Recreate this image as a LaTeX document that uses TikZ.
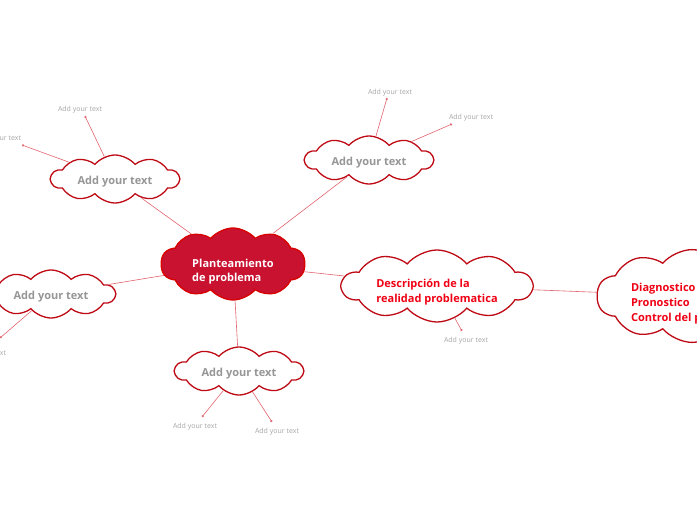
\documentclass[tikz,border=0pt]{standalone}
\usepackage{fontspec}
\setmainfont{Open Sans}
\usetikzlibrary{shapes.symbols,arrows.meta}
\definecolor{crim}{RGB}{200,18,48}
\definecolor{cloudred}{RGB}{190,10,20}
\definecolor{linkred}{RGB}{225,100,110}
\definecolor{txtgray}{RGB}{150,150,150}
\definecolor{leafgray}{RGB}{165,165,165}
\definecolor{txtred}{RGB}{240,0,20}
\begin{document}
\begin{tikzpicture}[x=1pt,y=-1pt,
        cloudn/.style={draw=cloudred, line width=1.3pt, cloud, cloud puffs=10, cloud puff arc=100, cloud ignores aspect, inner sep=0pt},
        mainn/.style={cloudn, fill=crim, draw=red!85!black, text=white, align=left, font=\bfseries\fontsize{11}{14}\selectfont, text height=38pt, minimum width=144pt, minimum height=72pt},
        subn/.style={cloudn, fill=white, text=txtgray, font=\bfseries\fontsize{11}{13}\selectfont, text height=14pt, minimum width=128pt, minimum height=48pt},
        descn/.style={cloudn, fill=white, text=txtred, align=left, font=\bfseries\fontsize{11}{15}\selectfont},
        leafn/.style={text=leafgray, font=\fontsize{7}{8}\selectfont, inner sep=0pt},
        link/.style={draw=linkred, line width=0.6pt},
        dotlink/.style={link, -{Circle[length=2.2pt]}},
    ]
    \clip (0,0) rectangle (697,520);
    % clouds
    \node[mainn](plan) at (233,264){Planteamiento\\de problema};
    \node[subn](tl) at (115,179){Add your text};
    \node[subn](tr) at (369,160){Add your text};
    \node[subn](lf) at (51,294){Add your text};
    \node[subn](bt) at (239,371){Add your text};
    \node[descn, text height=33pt, text depth=-6pt, minimum width=190pt, minimum height=72pt](desc) at (437,286){Descripción de la\\realidad problematica};
    \node[descn, text height=50.5pt, text depth=-13.5pt, minimum width=190pt, minimum height=88pt](diag) at (692,296){Diagnostico\\Pronostico\\Control del pronostico};
    % small labels
    \coordinate (tl1) at (85,116);  \node[leafn](tl1t) at (80,110){Add your text};
    \coordinate (tl2) at (22,145);  \node[leafn](tl2t) at (-1,139){Add your text};
    \coordinate (tr1) at (387,98);  \node[leafn](tr1t) at (390,93){Add your text};
    \coordinate (tr2) at (452,124); \node[leafn](tr2t) at (471,118){Add your text};
    \coordinate (lf1) at (0,338);   \node[leafn](lf1t) at (-16,354){Add your text};
    \coordinate (bt1) at (202,417); \node[leafn](bt1t) at (195,427){Add your text};
    \coordinate (bt2) at (272,422); \node[leafn](bt2t) at (277,432){Add your text};
    \coordinate (de1) at (462,331); \node[leafn](de1t) at (466,341){Add your text};
    % connectors
    \draw[link] (plan) -- (tl);
    \draw[link] (plan) -- (tr);
    \draw[link] (plan) -- (lf);
    \draw[link] (plan) -- (bt);
    \draw[link] (plan) -- (desc);
    \draw[link] (desc) -- (diag);
    \draw[dotlink] (tl) -- (tl1);
    \draw[dotlink] (tl) -- (tl2);
    \draw[dotlink] (tr) -- (tr1);
    \draw[dotlink] (tr) -- (tr2);
    \draw[dotlink] (lf) -- (lf1);
    \draw[dotlink] (bt) -- (bt1);
    \draw[dotlink] (bt) -- (bt2);
    \draw[dotlink] (desc) -- (de1);
\end{tikzpicture}
\end{document}
